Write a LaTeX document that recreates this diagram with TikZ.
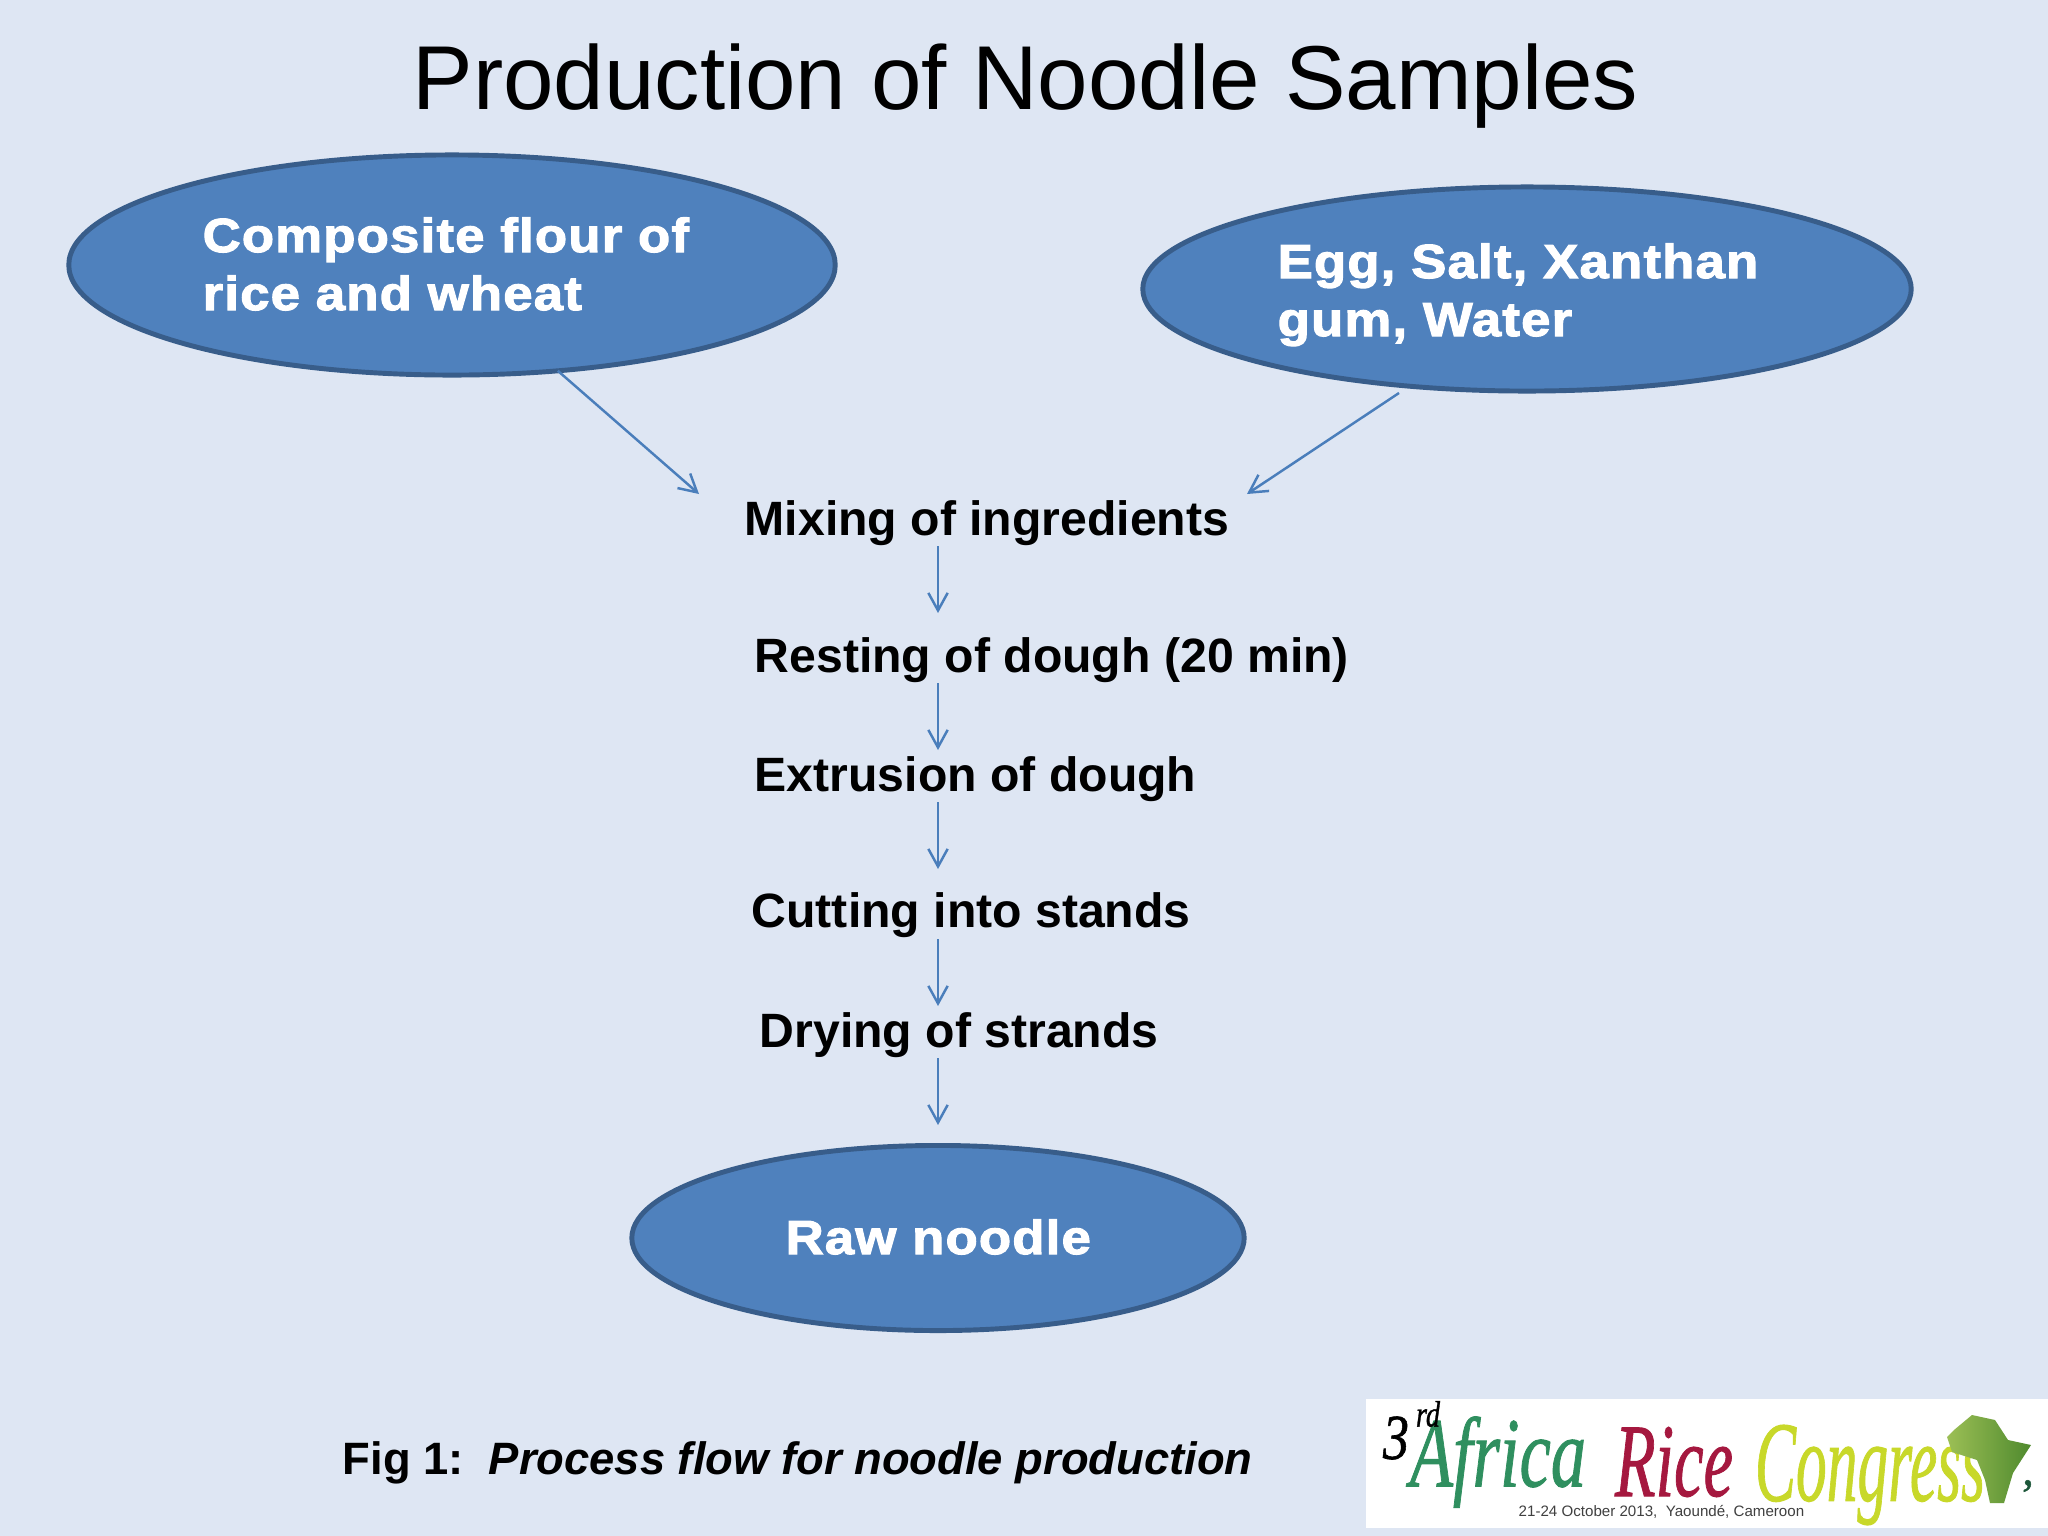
\documentclass[tikz,border=0pt]{standalone}
\usepackage{fontspec}
\usetikzlibrary{shapes.geometric,arrows.meta}
\setmainfont{Liberation Sans}
\newfontfamily\heavyfont[FakeBold=2.4,FakeStretch=1.1,LetterSpace=2.6]{Liberation Sans Bold}
\newfontfamily\logofont[FakeBold=1]{Liberation Serif Italic}
\definecolor{bgblue}{HTML}{DEE6F3}
\definecolor{ovalfill}{HTML}{4F81BD}
\definecolor{ovalline}{HTML}{385D8A}
\definecolor{arrowblue}{HTML}{4A7EBB}
\definecolor{logogreen}{HTML}{2F8F5F}
\definecolor{logored}{HTML}{A5183F}
\definecolor{logoyellow}{HTML}{C8D82A}
\definecolor{maplight}{HTML}{9CBF55}
\definecolor{mapdark}{HTML}{4F8A2E}
\tikzset{
  oval/.style={ellipse,draw=ovalline,fill=ovalfill,line width=1.4pt,inner sep=0pt,outer sep=0pt},
  ovaltext/.style={text=white,inner sep=0pt,anchor=base west,font=\heavyfont\fontsize{13.6pt}{16pt}\selectfont},
  steplabel/.style={text=black,inner sep=0pt,anchor=base west,font=\bfseries\fontsize{13.7pt}{16pt}\selectfont},
  flow/.style={draw=arrowblue,line width=0.7pt,-{Straight Barb[length=5pt,width=5.5pt,line width=0.7pt]}},
  logotext/.style={inner sep=0pt,anchor=center,font=\logofont\fontsize{26pt}{30pt}\selectfont}
}
\begin{document}
\begin{tikzpicture}[x=0.01cm,y=-0.01cm]
\useasboundingbox (0,0) rectangle (2048,1536);
\fill[bgblue] (0,0) rectangle (2048,1536);
\node[inner sep=0pt,anchor=base west,font=\fontsize{25.8pt}{30pt}\selectfont] (title) at (412,109) {Production of Noodle Samples};

\node[oval,minimum width=7.66cm,minimum height=2.2cm] (flour) at (452,265) {};
\node[oval,minimum width=7.68cm,minimum height=2.04cm] (egg) at (1527,289) {};
\node[oval,minimum width=6.12cm,minimum height=1.85cm] (raw) at (938,1238) {};

\node[ovaltext] (flourA) at (202,252) {Composite flour of};
\node[ovaltext] (flourB) at (202,310) {rice and wheat};
\node[ovaltext] (eggA) at (1277,278) {Egg, Salt, Xanthan};
\node[ovaltext] (eggB) at (1277,336) {gum, Water};
\node[ovaltext] (rawT) at (785,1254) {Raw noodle};

\node[steplabel] (mix) at (744,535) {Mixing of ingredients};
\node[steplabel] (rest) at (754,672) {Resting of dough (20 min)};
\node[steplabel] (extr) at (754,791) {Extrusion of dough};
\node[steplabel] (cut) at (751,927) {Cutting into stands};
\node[steplabel] (dry) at (759,1047) {Drying of strands};

\coordinate (eggOut) at (1399,393);
\coordinate (mixL) at (699,494);
\coordinate (mixR) at (1247,494);
\coordinate (a1) at (938,546); \coordinate (b1) at (938,613);
\coordinate (a2) at (938,683); \coordinate (b2) at (938,750);
\coordinate (a3) at (938,802); \coordinate (b3) at (938,869);
\coordinate (a4) at (938,939); \coordinate (b4) at (938,1006);
\coordinate (a5) at (938,1058); \coordinate (b5) at (938,1125);
\draw[flow] (flour.-45) -- (mixL);
\draw[flow] (eggOut) -- (mixR);
\draw[flow] (a1) -- (b1);
\draw[flow] (a2) -- (b2);
\draw[flow] (a3) -- (b3);
\draw[flow] (a4) -- (b4);
\draw[flow] (a5) -- (b5);

\node[inner sep=0pt,anchor=base west,font=\bfseries\fontsize{12.9pt}{15pt}\selectfont] (fig) at (342,1474) {Fig 1:\ \ \textit{Process flow for noodle production}};

% logo
\fill[white] (1366,1399) rectangle (2048,1528);
\node[logotext,text=logogreen] (lA) at (1498,1462) {\resizebox*{1.76cm}{0.91cm}{Africa}};
\node[logotext,text=logored] (lR) at (1674,1462) {\resizebox*{1.18cm}{0.70cm}{Rice}};
\node[logotext,text=logoyellow] (lC) at (1870,1475) {\resizebox*{2.30cm}{1.00cm}{Congress}};
\shade[left color=maplight,right color=mapdark] (1954,1430) -- (1972,1415) -- (1995,1420) -- (2008,1440) -- (2031,1445) -- (2013,1473) -- (2004,1503) -- (1990,1503) -- (1985,1480) -- (1977,1460) -- (1952,1452) -- (1947,1437) -- cycle;
\node[logotext,text=black] (l3) at (1396,1438) {\resizebox*{0.26cm}{0.43cm}{3}};
\node[logotext,text=black] (lnd) at (1428,1414) {\resizebox*{0.24cm}{0.26cm}{rd}};
\node[logotext,text=logogreen!60!black,font=\logofont\fontsize{13pt}{15pt}\selectfont] (lc) at (2028,1486) {,};
\node[inner sep=0pt,anchor=base west,text=black!75,font=\fontsize{4.3pt}{6pt}\selectfont] (ld) at (1518,1516) {21-24 October 2013,\ \ Yaoundé, Cameroon};
\end{tikzpicture}
\end{document}
